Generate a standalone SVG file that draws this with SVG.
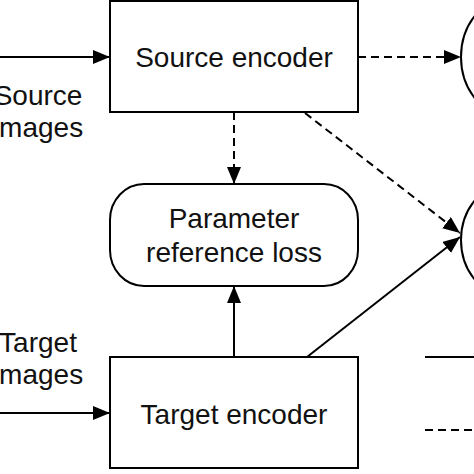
<svg xmlns="http://www.w3.org/2000/svg" width="474" height="474" viewBox="0 0 474 474">
<style>
.box{fill:#fff;stroke:#000;stroke-width:2}
.t{font-family:"Liberation Sans",Arial,Helvetica,sans-serif;font-size:28px;fill:#111;text-anchor:middle}
.ln{fill:none;stroke:#000;stroke-width:2}
.dash{stroke-dasharray:8 5}
</style>
<defs>
<marker id="ah" markerUnits="userSpaceOnUse" markerWidth="18" markerHeight="16" refX="17" refY="7" orient="auto">
<path d="M0,0 L17,7 L0,14 Z" fill="#000"/>
</marker>
</defs>
<rect width="474" height="474" fill="#fff"/>
<g id="source-encoder">
<rect class="box" x="110" y="1" width="248" height="111"/>
<text class="t" x="234" y="67">Source encoder</text>
</g>
<g id="param-loss">
<rect class="box" x="110" y="184" width="248" height="102" rx="34" ry="36"/>
<text class="t" x="234" y="228">Parameter</text>
<text class="t" x="234" y="262">reference loss</text>
</g>
<g id="target-encoder">
<rect class="box" x="110" y="357" width="248" height="111"/>
<text class="t" x="234" y="424">Target encoder</text>
</g>
<g id="ellipse-top">
<ellipse class="ln" cx="512" cy="57" rx="51" ry="60"/>
</g>
<g id="ellipse-bottom">
<ellipse class="ln" cx="512" cy="240" rx="51" ry="58"/>
</g>
<g id="labels">
<text class="t" x="38" y="105">Source</text>
<text class="t" x="38" y="137">images</text>
<text class="t" x="38" y="352">Target</text>
<text class="t" x="38" y="384">images</text>
</g>
<g id="connectors">
<line class="ln" x1="0" y1="57" x2="110" y2="57" marker-end="url(#ah)"/>
<line class="ln" x1="0" y1="413" x2="110" y2="413" marker-end="url(#ah)"/>
<line class="ln dash" x1="358" y1="57" x2="461" y2="57" marker-end="url(#ah)"/>
<line class="ln dash" x1="234" y1="112" x2="234" y2="184" marker-end="url(#ah)"/>
<line class="ln dash" x1="305" y1="113" x2="460" y2="233" marker-end="url(#ah)"/>
<line class="ln" x1="307" y1="357" x2="460" y2="237" marker-end="url(#ah)"/>
<line class="ln" x1="234" y1="357" x2="234" y2="286" marker-end="url(#ah)"/>
</g>
<g id="legend">
<line class="ln" x1="425" y1="357" x2="474" y2="357"/>
<line class="ln dash" x1="425" y1="430" x2="474" y2="430"/>
</g>
</svg>
